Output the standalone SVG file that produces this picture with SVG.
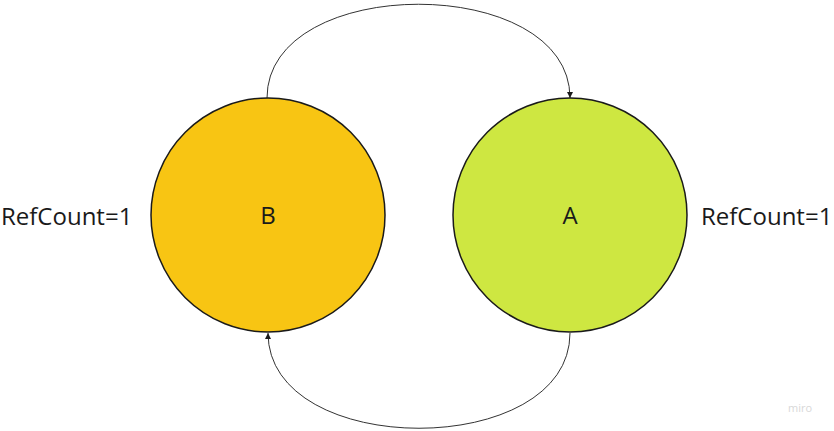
<svg xmlns="http://www.w3.org/2000/svg" width="834" height="431" viewBox="0 0 834 431">
<style>
.lbl{font-family:"Open Sans","Noto Sans",sans-serif;font-size:24px;fill:#1a1a1a}
.node{stroke:#1a1a1a;stroke-width:1.5}
.conn{fill:none;stroke:#333;stroke-width:1}
</style>
<defs>
<marker id="arr" viewBox="0 0 10 10" refX="10" refY="5" markerWidth="6" markerHeight="9" markerUnits="userSpaceOnUse" orient="auto">
<path d="M0,0 L10,5 L0,10 z" fill="#1a1a1a"/>
</marker>
</defs>
<rect width="834" height="431" fill="#fff"/>
<g id="connectors">
<path class="conn" d="M267,98 C267,-27 570,-27 570,98" marker-end="url(#arr)"/>
<path class="conn" d="M570,333 C570,460 268,460 268,333" marker-end="url(#arr)"/>
</g>
<g id="nodeB">
<circle class="node" cx="268" cy="215" r="117" fill="#F8C513"/>
<text class="lbl" x="268" y="224" text-anchor="middle">B</text>
</g>
<g id="nodeA">
<circle class="node" cx="570" cy="215" r="117" fill="#CEE741"/>
<text class="lbl" x="570" y="224" text-anchor="middle">A</text>
</g>
<g id="labelB">
<text class="lbl" x="1" y="225">RefCount=1</text>
</g>
<g id="labelA">
<text class="lbl" x="701" y="225">RefCount=1</text>
</g>
<text x="800" y="412" font-family="'Open Sans',sans-serif" font-size="11" fill="#d8d8d8" text-anchor="middle">miro</text>
</svg>
